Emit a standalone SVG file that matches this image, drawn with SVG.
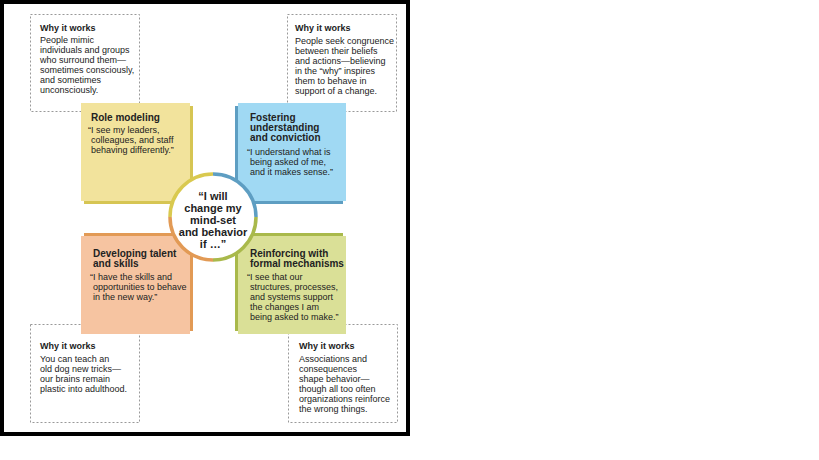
<svg xmlns="http://www.w3.org/2000/svg" width="819" height="460" viewBox="0 0 819 460">
<style>
text{font-family:"Liberation Sans",Arial,sans-serif;font-size:9px;fill:#222}
.t{font-weight:bold;font-size:10px}
.h{font-weight:bold}
.d{fill:#fff;stroke:#999;stroke-width:1;stroke-dasharray:2,2}
.c{font-weight:bold;font-size:11px;text-anchor:middle}
</style>
<rect x="0" y="0" width="819" height="460" fill="#fff"/>
<rect x="2" y="2" width="406" height="432" fill="#fff" stroke="#000" stroke-width="4"/>
<g id="why1"><rect class="d" x="30.5" y="14.5" width="109" height="97"/>
<text x="40" y="31" class="h">Why it works</text>
<text x="40" y="43">People mimic</text><text x="40" y="53">individuals and groups</text><text x="40" y="63">who surround them—</text><text x="40" y="73">sometimes consciously,</text><text x="40" y="83">and sometimes</text><text x="40" y="93">unconsciously.</text></g>
<g id="why2"><rect class="d" x="287.5" y="14.5" width="109" height="97"/>
<text x="295" y="31" class="h">Why it works</text>
<text x="295" y="44">People seek congruence</text><text x="295" y="54">between their beliefs</text><text x="295" y="64">and actions—believing</text><text x="295" y="74">in the “why” inspires</text><text x="295" y="84">them to behave in</text><text x="295" y="94">support of a change.</text></g>
<g id="why3"><rect class="d" x="30.5" y="324.5" width="109" height="98"/>
<text x="40" y="349" class="h">Why it works</text>
<text x="40" y="362">You can teach an</text><text x="40" y="372">old dog new tricks—</text><text x="40" y="382">our brains remain</text><text x="40" y="392">plastic into adulthood.</text></g>
<g id="why4"><rect class="d" x="288.5" y="324.5" width="109" height="98"/>
<text x="299" y="349" class="h">Why it works</text>
<text x="299" y="362">Associations and</text><text x="299" y="372">consequences</text><text x="299" y="382">shape behavior—</text><text x="299" y="392">though all too often</text><text x="299" y="402">organizations reinforce</text><text x="299" y="412">the wrong things.</text></g>
<g id="role"><rect x="84" y="106" width="109" height="98" fill="#d6c553"/><rect x="81" y="103" width="109" height="98" fill="#f2e39c"/>
<text x="91" y="121" class="t">Role modeling</text>
<text x="88" y="133">“I see my leaders,</text><text x="91" y="143">colleagues, and staff</text><text x="91" y="153">behaving differently.”</text></g>
<g id="foster"><rect x="235" y="106" width="108" height="98" fill="#5e9ec2"/><rect x="238" y="103" width="108" height="98" fill="#a0d9f3"/>
<text x="250" y="121" class="t">Fostering</text><text x="250" y="131" class="t">understanding</text><text x="250" y="141" class="t">and conviction</text>
<text x="247" y="155">“I understand what is</text><text x="250" y="165">being asked of me,</text><text x="250" y="175">and it makes sense.”</text></g>
<g id="talent"><rect x="84" y="233" width="109" height="98" fill="#e29a55"/><rect x="81" y="236" width="109" height="98" fill="#f6c4a1"/>
<text x="93" y="257" class="t">Developing talent</text><text x="93" y="267" class="t">and skills</text>
<text x="90" y="280">“I have the skills and</text><text x="93" y="290">opportunities to behave</text><text x="93" y="300">in the new way.”</text></g>
<g id="reinforce"><rect x="235" y="233" width="108" height="98" fill="#a9b94b"/><rect x="238" y="236" width="108" height="98" fill="#dae097"/>
<text x="250" y="257" class="t">Reinforcing with</text><text x="250" y="267" class="t">formal mechanisms</text>
<text x="247" y="280">“I see that our</text><text x="250" y="290">structures, processes,</text><text x="250" y="300">and systems support</text><text x="250" y="310">the changes I am</text><text x="250" y="320">being asked to make.”</text></g>
<g id="center">
<circle cx="213" cy="217" r="43" fill="#fff"/>
<g fill="none" stroke-width="3.5">
<path d="M170,217 A43,43 0 0 1 213,174" stroke="#d9c94f"/>
<path d="M213,174 A43,43 0 0 1 256,217" stroke="#5e9ec2"/>
<path d="M256,217 A43,43 0 0 1 213,260" stroke="#a9b94b"/>
<path d="M213,260 A43,43 0 0 1 170,217" stroke="#e29a55"/>
</g>
<text x="213" y="200" class="c">“I will</text><text x="213" y="212" class="c">change my</text><text x="213" y="224" class="c">mind-set</text><text x="213" y="236" class="c">and behavior</text><text x="213" y="248" class="c">if …”</text>
</g>
<g id="connectors"/>
</svg>
